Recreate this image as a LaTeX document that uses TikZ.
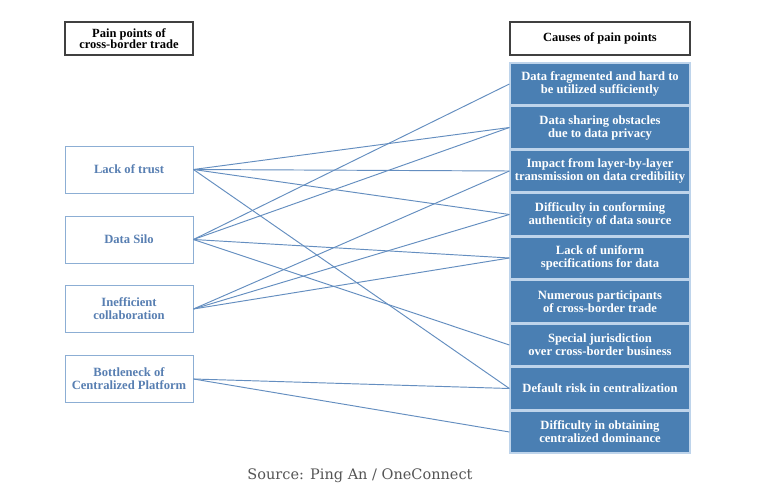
\documentclass[tikz,border=0pt]{standalone}
\usepackage{fontspec}
\setmainfont{Liberation Serif}
\newfontfamily\srcfont{DejaVu Serif}
\definecolor{boxblue}{RGB}{74,127,179}
\definecolor{gapblue}{RGB}{190,212,235}
\definecolor{leftborder}{RGB}{140,174,212}
\definecolor{lefttext}{RGB}{88,127,178}
\definecolor{linkblue}{RGB}{100,142,192}
\definecolor{srcgray}{RGB}{85,85,85}
\begin{document}
\begin{tikzpicture}[x=1pt,y=-1pt,
  hdr/.style={draw=black!75,line width=1.1pt,fill=white,minimum width=128pt,minimum height=33pt,inner sep=0pt,align=center,font=\fontsize{12.5}{11.5}\selectfont\bfseries},
  painbox/.style={draw=leftborder,line width=0.9pt,fill=white,minimum width=128pt,minimum height=47pt,inner sep=0pt,align=center,text=lefttext,font=\fontsize{12.6}{13}\selectfont\bfseries},
  causebox/.style={draw=gapblue,line width=1.2pt,fill=boxblue,minimum width=180pt,minimum height=42pt,inner sep=0pt,align=center,text=white,font=\fontsize{12.6}{13}\selectfont\bfseries},
  link/.style={draw=linkblue,line width=0.95pt}]
\useasboundingbox (0,0) rectangle (768,497);
\fill[white] (0,0) rectangle (768,497);
% headers
\node[hdr] (hl) at (129,38.5) {Pain points of\\cross-border trade};
\node[hdr,minimum width=180pt] (hr) at (600,38.5) {Causes of pain points};
% left
\node[painbox] (l1) at (129,169.5) {Lack of trust};
\node[painbox] (l2) at (129,239.5) {Data Silo};
\node[painbox] (l3) at (129,309) {Inefficient\\collaboration};
\node[painbox] (l4) at (129,379) {Bottleneck of\\Centralized Platform};
% right
\node[causebox] (r1) at (600,84) {Data fragmented and hard to\\be utilized sufficiently};
\node[causebox] (r2) at (600,127.5) {Data sharing obstacles\\due to data privacy};
\node[causebox] (r3) at (600,171) {Impact from layer-by-layer\\transmission on data credibility};
\node[causebox] (r4) at (600,214.5) {Difficulty in conforming\\authenticity of data source};
\node[causebox] (r5) at (600,258) {Lack of uniform\\specifications for data};
\node[causebox] (r6) at (600,301.5) {Numerous participants\\of cross-border trade};
\node[causebox] (r7) at (600,345) {Special jurisdiction\\over cross-border business};
\node[causebox] (r8) at (600,388.5) {Default risk in centralization};
\node[causebox] (r9) at (600,432) {Difficulty in obtaining\\centralized dominance};
% links
\foreach \a/\b in {l1/r2,l1/r3,l1/r4,l1/r8,l2/r1,l2/r2,l2/r5,l2/r7,l3/r3,l3/r4,l3/r5,l4/r8,l4/r9}
  \draw[link] (\a.east) -- (\b.west);
% source
\node[text=srcgray,font=\srcfont\fontsize{14.5}{16}\selectfont,inner sep=0pt] (src) at (360,476) {Source: Ping An / OneConnect};
\end{tikzpicture}
\end{document}
